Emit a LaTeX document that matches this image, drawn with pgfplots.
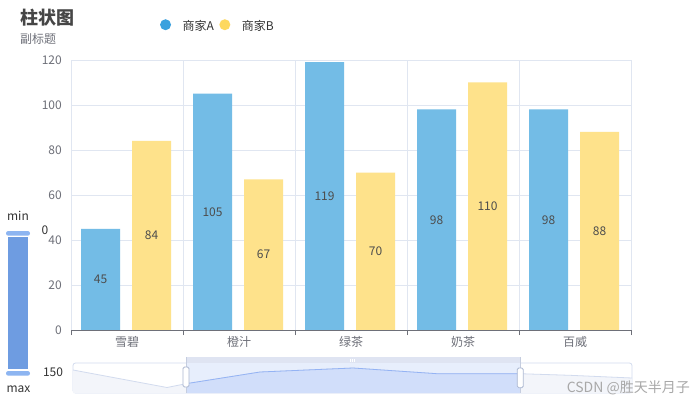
\documentclass[border=0pt]{standalone}
\usepackage{pgfplots}
\pgfplotsset{compat=1.18}
\usepackage{fontspec}
\setmainfont{Noto Sans CJK SC}
\definecolor{colA}{HTML}{3BA1DE}
\definecolor{colB}{HTML}{FDD85E}
\definecolor{barA}{HTML}{73BCE6}
\definecolor{barB}{HTML}{FEE28B}
\definecolor{gridc}{HTML}{E0E6F1}
\definecolor{axisc}{HTML}{6E7079}
\definecolor{lblc}{HTML}{4D4D4D}
\definecolor{titlec}{HTML}{464646}
\definecolor{legc}{HTML}{333333}
\definecolor{vmbar}{HTML}{6E9CE1}
\definecolor{vmhandle}{HTML}{8DB5F1}
\definecolor{dzborder}{HTML}{D2DBEE}
\definecolor{dzshadow}{HTML}{F3F5FA}
\definecolor{dzshline}{HTML}{D2DBEE}
\definecolor{dzsel}{HTML}{E7EEFC}
\definecolor{dzselshadow}{HTML}{D1DEFA}
\definecolor{dzselline}{HTML}{94B3F4}
\definecolor{dztop}{HTML}{DFE4F2}
\definecolor{dzhandle}{HTML}{ACB8D1}
\definecolor{wmc}{HTML}{A8A8A8}
\newcommand{\px}[1]{\fontsize{#1bp}{#1bp}\selectfont}
\begin{document}
\begin{tikzpicture}[x=1bp,y=1bp]
\path[use as bounding box, fill=white] (0,0) rectangle (700,401);
% titles
\node[anchor=west, inner sep=0pt, text=titlec, font=\px{18}\bfseries] at (20,383) {柱状图};
\node[anchor=west, inner sep=0pt, text=axisc, font=\px{12}] at (20,362.5) {副标题};
% visual map
\node[inner sep=0pt, text=legc, font=\px{12}] at (18,185) {min};
\node[inner sep=0pt, text=legc, font=\px{12}] at (18.5,12) {max};
\fill[vmbar] (8,31.7) rectangle (28,163.7);
\fill[vmhandle, rounded corners=2.3bp] (6,165.3) rectangle (30,170);
\fill[vmhandle, rounded corners=2.3bp] (6,25.3) rectangle (30,30);
\node[inner sep=0pt, text=legc, font=\px{12}] at (45,171) {0};
\node[inner sep=0pt, text=legc, font=\px{12}] at (53,29) {150};
% main chart
\begin{axis}[
  at={(71bp,71bp)}, anchor=south west,
  width=560bp, height=270bp, scale only axis,
  xmin=-0.5, xmax=4.5, ymin=0, ymax=120,
  axis line style={draw=none},
  xtick={0,1,2,3,4},
  xticklabels={雪碧,橙汁,绿茶,奶茶,百威},
  minor xtick={-0.5,0.5,1.5,2.5,3.5,4.5},
  ytick={0,20,...,120},
  xtick pos=left, ytick pos=left,
  xminorgrids=true, ymajorgrids=true, xmajorgrids=false,
  major grid style={color=gridc, line width=0.8bp},
  minor grid style={color=gridc, line width=0.8bp},
  tick align=outside,
  major tick length=0pt,
  minor tick length=5bp,
  major tick style={draw=none},
  minor tick style={draw=axisc, line width=0.8bp},
  tick label style={font=\px{12}, text=axisc},
  yticklabel style={inner sep=0pt, xshift=-9bp},
  xticklabel style={inner sep=0pt, yshift=-6bp},
  /pgf/number format/assume math mode=true,
  legend style={at={(0.159,1.1278)}, anchor=west, draw=none, fill=none,
    inner sep=0pt, outer sep=0pt, font=\px{12},
    nodes={inner sep=0pt, text=legc},
    /tikz/every odd column/.append style={column sep=11.5bp},
    /tikz/every even column/.append style={column sep=5.5bp}},
  legend columns=2,
]
\addplot[ybar, bar width=39bp, bar shift=-26.5bp, fill=barA, draw=none,
  nodes near coords, visualization depends on={y \as \rawy},
  every node near coord/.append style={anchor=center, font=\px{12}, text=lblc,
     shift={(axis direction cs:0,-\rawy/2)}, xshift=-26.5bp},
  legend image code/.code={\fill[colA] (5.5bp,1.2bp) circle (5.5bp);}]
  coordinates {(0,45) (1,105) (2,119) (3,98) (4,98)};
\addlegendentry{商家A}
\addplot[ybar, bar width=39bp, bar shift=24.5bp, fill=barB, draw=none,
  nodes near coords, visualization depends on={y \as \rawy},
  every node near coord/.append style={anchor=center, font=\px{12}, text=lblc,
     shift={(axis direction cs:0,-\rawy/2)}, xshift=24.5bp},
  legend image code/.code={\fill[colB] (5.5bp,1.2bp) circle (5.5bp);}]
  coordinates {(0,84) (1,67) (2,70) (3,110) (4,88)};
\addlegendentry{商家B}
\draw[axisc, line width=0.8bp] (axis cs:-0.5,0) -- (axis cs:4.5,0);
\end{axis}
% data zoom
\filldraw[fill=white, draw=dzborder, line width=0.8bp, rounded corners=2.5bp] (73,8) rectangle (632,38);
\fill[dzsel] (186,8.4) rectangle (520,37.6);
\begin{axis}[
  at={(73bp,8bp)}, anchor=south west,
  width=559bp, height=30bp, scale only axis,
  xmin=0, xmax=559, ymin=0, ymax=30, hide axis,
]
\addplot[fill=dzshadow, draw=none] coordinates {(0,23) (94,5.5) (113,9.3) (187,21) (280,25) (364,19.3) (447,19.3) (497,17.7) (559,15)} \closedcycle;
\addplot[draw=dzshline, line width=0.8bp] coordinates {(0,23) (94,5.5) (113,9.3) (187,21) (280,25) (364,19.3) (447,19.3) (497,17.7) (559,15)};
\addplot[fill=dzselshadow, draw=none] coordinates {(113,9.3) (187,21) (280,25) (364,19.3) (447,19.3)} \closedcycle;
\addplot[draw=dzselline, line width=0.8bp] coordinates {(113,9.3) (187,21) (280,25) (364,19.3) (447,19.3)};
\end{axis}
\fill[dztop] (186,37.6) rectangle (520,44.3);
\foreach \i in {-2,0,2} \draw[white, line width=0.6bp] (352+\i,39.5) -- (352+\i,42.5);
\draw[dzhandle!70, line width=0.8bp] (186,8.4) -- (186,44.3);
\draw[dzhandle!70, line width=0.8bp] (520,8.4) -- (520,44.3);
\filldraw[fill=white, draw=dzhandle, line width=0.8bp, rounded corners=1.5bp] (183,14) rectangle (189,34);
\filldraw[fill=white, draw=dzhandle, line width=0.8bp, rounded corners=1.5bp] (517.3,13.3) rectangle (523.3,33);
% watermark
\node[anchor=east, inner sep=0pt, text=wmc, font=\px{14}] at (690,13) {CSDN @胜天半月子};
\end{tikzpicture}
\end{document}
